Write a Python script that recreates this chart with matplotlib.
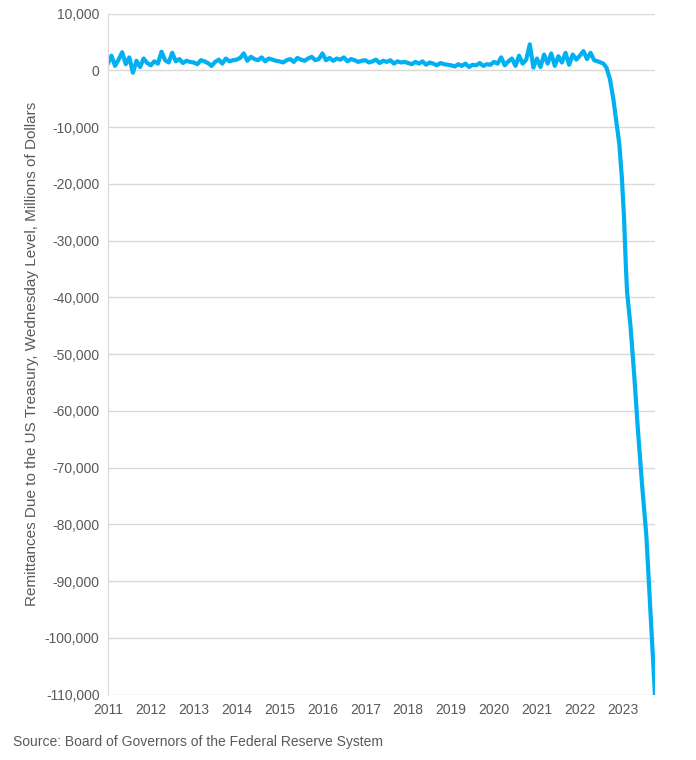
import matplotlib.pyplot as plt
import numpy as np

plt.rcParams['font.family'] = ['Liberation Sans', 'DejaVu Sans']

# monthly readings (millions of dollars), Jan 2011 .. Jun 2022
monthly = {
    2011: [1200, 2600, 800, 1900, 3200, 1100, 2300, -400, 1700, 600, 2100, 1300],
    2012: [900, 1600, 1200, 3300, 1800, 1400, 3100, 1600, 2000, 1300, 1700, 1500],
    2013: [1400, 1100, 1800, 1600, 1300, 800, 1500, 1900, 1200, 2100, 1600, 1800],
    2014: [1900, 2200, 3000, 1700, 2400, 2000, 1800, 2300, 1600, 2100, 1900, 1700],
    2015: [1600, 1400, 1800, 2000, 1500, 2200, 1900, 1700, 2100, 2400, 1800, 2000],
    2016: [3000, 1800, 2200, 1700, 2100, 1900, 2300, 1600, 2000, 1800, 1500, 1700],
    2017: [1800, 1400, 1600, 1900, 1300, 1700, 1500, 1800, 1200, 1600, 1400, 1500],
    2018: [1300, 1100, 1500, 1200, 1600, 1000, 1400, 1200, 900, 1300, 1100, 1000],
    2019: [900, 700, 1100, 800, 1200, 600, 1000, 900, 1300, 800, 1100, 1000],
    2020: [1500, 1200, 2300, 900, 1600, 2100, 800, 2600, 1200, 1900, 4600, 500],
    2021: [2100, 600, 2800, 1200, 3000, 800, 2500, 1400, 3100, 1000, 2800, 1900],
    2022: [2600, 3400, 2000, 3100, 1800, 1600],
}
# decline phase: (decimal year, value)
decline_x = [2022.55, 2022.62, 2022.7, 2022.78, 2022.85, 2022.92, 2022.98, 2023.03,
             2023.07, 2023.1, 2023.18, 2023.27, 2023.35, 2023.45, 2023.55, 2023.65, 2023.75]
decline_y = [1200, 500, -1500, -5000, -9000, -13000, -19000, -26000,
             -34000, -39000, -45000, -54000, -63000, -73000, -82000, -96000, -110000]

x, y = [], []
for yr, vals in monthly.items():
    for m, v in enumerate(vals):
        x.append(yr + m / 12)
        y.append(v)
x += decline_x
y += decline_y

fig = plt.figure(figsize=(6.96, 7.6), dpi=100)
ax = fig.add_axes([0.155, 0.086, 0.786, 0.896])
ax.plot(x, y, color='#00B0F0', lw=3, solid_joinstyle='round')
ax.set_xlim(2011, 2023.75)
ax.set_ylim(-110000, 10000)
ax.set_yticks(np.arange(-110000, 10001, 10000))
ax.yaxis.set_major_formatter(plt.FuncFormatter(lambda v, p: f'{int(v):,}'))
ax.set_xticks(range(2011, 2024))
ax.grid(axis='y', color='#d9d9d9', lw=1)
ax.set_axisbelow(True)
for s in ['top', 'right', 'bottom']:
    ax.spines[s].set_visible(False)
ax.spines['left'].set_color('#d9d9d9')
ax.tick_params(length=0, labelsize=10, colors='#595959', pad=6)
ax.set_ylabel('Remittances Due to the US Treasury, Wednesday Level, Millions of Dollars',
              fontsize=11, color='#595959')
fig.text(0.018, 0.018, 'Source: Board of Governors of the Federal Reserve System',
         fontsize=10, color='#595959')
fig.savefig('out.png')
